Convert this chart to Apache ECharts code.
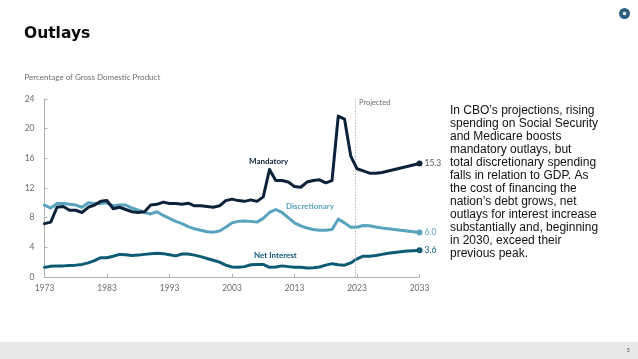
<!DOCTYPE html>
<html><head><meta charset="utf-8">
<script src="https://cdn.jsdelivr.net/npm/echarts@6/dist/echarts.min.js"></script>
<style>html,body{margin:0;padding:0;background:#fff}#c{width:638px;height:359px}</style></head>
<body><div id="c"></div>
<script>
const years = [];
for (let y = 1973; y <= 2033; y++) years.push(y);
const mandatory = [7.2,7.4,9.4,9.5,9.0,9.0,8.7,9.4,9.7,10.2,10.3,9.2,9.4,9.1,8.8,8.7,8.8,9.7,9.8,10.1,9.9,9.9,9.8,9.95,9.6,9.6,9.5,9.4,9.6,10.3,10.5,10.3,10.2,10.4,10.2,10.8,14.5,13.0,13.0,12.8,12.2,12.1,12.8,13.0,13.1,12.7,13.0,21.7,21.3,16.3,14.6,14.3,14.0,14.0,14.1,14.3,14.5,14.7,14.9,15.1,15.3];
const discretionary = [9.7,9.3,9.9,9.9,9.8,9.7,9.4,10.0,9.9,9.9,10.0,9.6,9.7,9.7,9.3,9.0,8.7,8.5,8.8,8.3,7.9,7.5,7.2,6.8,6.5,6.3,6.1,6.05,6.2,6.7,7.3,7.5,7.55,7.5,7.4,7.9,8.7,9.1,8.7,8.0,7.3,6.9,6.6,6.4,6.3,6.3,6.4,7.8,7.3,6.7,6.7,6.95,6.9,6.75,6.6,6.5,6.4,6.3,6.2,6.1,6.0];
const netInterest = [1.3,1.45,1.5,1.5,1.55,1.6,1.7,1.9,2.2,2.6,2.6,2.8,3.05,3.0,2.9,2.95,3.05,3.15,3.2,3.15,3.0,2.85,3.1,3.1,2.95,2.75,2.5,2.25,2.0,1.6,1.35,1.3,1.4,1.65,1.7,1.7,1.3,1.35,1.5,1.4,1.3,1.3,1.2,1.25,1.35,1.6,1.8,1.65,1.6,1.9,2.45,2.8,2.8,2.9,3.05,3.2,3.3,3.4,3.5,3.55,3.6];
const projectedYear = 2022.7;
const sideText = ["In CBO’s projections, rising","spending on Social Security","and Medicare boosts","mandatory outlays, but","total discretionary spending","falls in relation to GDP. As","the cost of financing the","nation’s debt grows, net","outlays for interest increase","substantially and, beginning","in 2030, exceed their","previous peak."];
const F = 'Lato, "Open Sans", sans-serif';
const GREY = '#6a6c6e';
function line(name, vals, color, end, z) {
  return {
    name, type: 'line', z, showSymbol: false, smooth: false,
    data: vals.map((v, i) => [years[i], v]),
    lineStyle: { color, width: 3, cap: 'round', join: 'round' },
    symbol: 'circle', symbolSize: 6, itemStyle: { color },
    markPoint: { silent: true, symbol: 'circle', symbolSize: 6, itemStyle: { color },
      data: [{ coord: [2033, vals[vals.length - 1]],
        label: { show: true, position: 'right', distance: 2, formatter: end, color: color === '#0b2239' ? '#555' : color, fontFamily: F, fontSize: 8.5 } }] }
  };
}
const chart = echarts.init(document.getElementById('c'), null, { renderer: 'canvas' });
const series = [
  line('Discretionary', discretionary, '#58a3bd', '6.0', 3),
  line('Net Interest', netInterest, '#0d5a75', '3.6', 4),
  line('Mandatory', mandatory, '#0b2239', '15.3', 5)
];
series[0].markLine = { silent: true, symbol: 'none', label: { show: false },
  lineStyle: { color: '#b5b9bb', type: [1.5, 1.5], width: 1 }, data: [[{ coord: [projectedYear, 0] }, { coord: [projectedYear, 24] }]] };
chart.setOption({
  animation: false, backgroundColor: '#fff',
  grid: { left: 44.5, top: 99, width: 375, height: 178 },
  xAxis: { type: 'value', min: 1973, max: 2033, interval: 10, splitLine: { show: false },
    axisLine: { lineStyle: { color: '#b0b2b4', width: 1 } }, axisTick: { length: 3, inside: true, lineStyle: { color: '#b0b2b4' } },
    axisLabel: { color: GREY, fontFamily: F, fontSize: 8.5, margin: 7, formatter: v => String(v) } },
  yAxis: { type: 'value', min: 0, max: 24, interval: 4, splitLine: { show: false },
    axisLine: { show: true, lineStyle: { color: '#b0b2b4', width: 1 } }, axisTick: { show: true, length: 3, inside: true, lineStyle: { color: '#b0b2b4' } },
    axisLabel: { color: GREY, fontFamily: F, fontSize: 8.5, margin: 10, align: 'right' } },
  series,
  graphic: [
    { type: 'rect', silent: true, z: -1, shape: { x: 0, y: 342, width: 638, height: 17 }, style: { fill: '#e8e8e8' } },
    { type: 'text', x: 24, y: 25.5, style: { text: 'Outlays', fill: '#0a0a0a', font: 'bold 15.5px "DejaVu Sans", sans-serif' } },
    { type: 'text', x: 24.5, y: 73, style: { text: 'Percentage of Gross Domestic Product', fill: GREY, font: '8px Lato, sans-serif' } },
    { type: 'text', x: 359, y: 98.5, style: { text: 'Projected', fill: GREY, font: '7.5px Lato, sans-serif' } },
    { type: 'text', x: 249, y: 157, style: { text: 'Mandatory', fill: '#0b2239', font: 'bold 8px Lato, sans-serif' } },
    { type: 'text', x: 286, y: 202, style: { text: 'Discretionary', fill: '#58a3bd', font: 'bold 8px Lato, sans-serif' } },
    { type: 'text', x: 254, y: 251.5, style: { text: 'Net Interest', fill: '#0d5a75', font: 'bold 8px Lato, sans-serif' } },
    { type: 'text', x: 630, y: 347, style: { text: '5', fill: '#555', font: '6px Lato, sans-serif', textAlign: 'right' } },
    { type: 'ring', shape: { cx: 624.5, cy: 13.5, r: 5.5, r0: 1.8 }, style: { fill: '#2f5f80' } },
    { type: 'text', x: 450, y: 104.5, style: { text: sideText.join('\n'), fill: '#111', font: '12px "Liberation Sans", Arial, sans-serif', lineHeight: 13 } }
  ]
});
</script></body></html>
